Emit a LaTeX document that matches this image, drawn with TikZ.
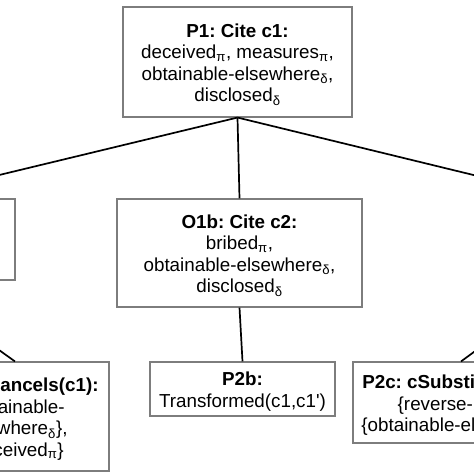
\documentclass[tikz,border=0pt]{standalone}
\usepackage{fontspec}
\setmainfont{Liberation Sans}
\definecolor{boxgray}{RGB}{125,125,125}
\newcommand{\topstrut}{\rule{0pt}{19pt}}
\begin{document}
\frenchspacing
\begin{tikzpicture}[x=1pt,y=-1pt,
  box/.style={draw=boxgray, line width=1.1pt, align=center, inner sep=0pt,
    font=\fontsize{18.8}{21.4}\selectfont\frenchspacing},
  link/.style={line width=1.7pt, black}]
\useasboundingbox (0,0) rectangle (474,474);
\clip (0,0) rectangle (474,474);
\fill[white] (0,0) rectangle (474,474);
% level 0
\node[box, minimum width=229, minimum height=110] (p1) at (237.5,62)
  {\topstrut\textbf{P1: Cite c1:}\\
   deceived\textsubscript{π}, measures\textsubscript{π},\\
   obtainable-elsewhere\textsubscript{δ},\\
   disclosed\textsubscript{δ}};
% level 1
\node[box, minimum width=226, minimum height=81] (o1a) at (-98,239.5) {};
\node[box, minimum width=245, minimum height=108] (o1b) at (239.5,253)
  {\topstrut\textbf{O1b: Cite c2:}\\
   bribed\textsubscript{π},\\
   obtainable-elsewhere\textsubscript{δ},\\
   disclosed\textsubscript{δ}};
\coordinate (o1ctop) at (572,199);
\coordinate (o1cbot) at (572,280);
% level 2
\node[box, minimum width=188, minimum height=109] (p2a) at (15,416.5)
  {\topstrut\textbf{P2a: cCancels(c1):}\\
   \{obtainable-\\
   elsewhere\textsubscript{δ}\},\\
   \{deceived\textsubscript{π}\}};
\node[box, minimum width=185, minimum height=54] (p2b) at (242.5,389)
  {\topstrut\textbf{P2b:}\\
   Transformed(c1,c1\textquotesingle)};
\node[box, minimum width=216, minimum height=81] (p2c) at (461,402.5)
  {\topstrut\textbf{P2c: cSubstitutes(c1):}\\
   \hspace*{22pt}\{reverse-bribed\textsubscript{π}\},\\
   \{obtainable-elsewhere\textsubscript{δ}\}};
% connectors
\draw[link] (p1.south) -- (o1a.north);
\draw[link] (p1.south) -- (o1b.north);
\draw[link] (p1.south) -- (o1ctop);
\draw[link] (o1a.south) -- (p2a.north);
\draw[link] (o1b.south) -- (p2b.north);
\draw[link] (o1cbot) -- (p2c.north);
\end{tikzpicture}
\end{document}
